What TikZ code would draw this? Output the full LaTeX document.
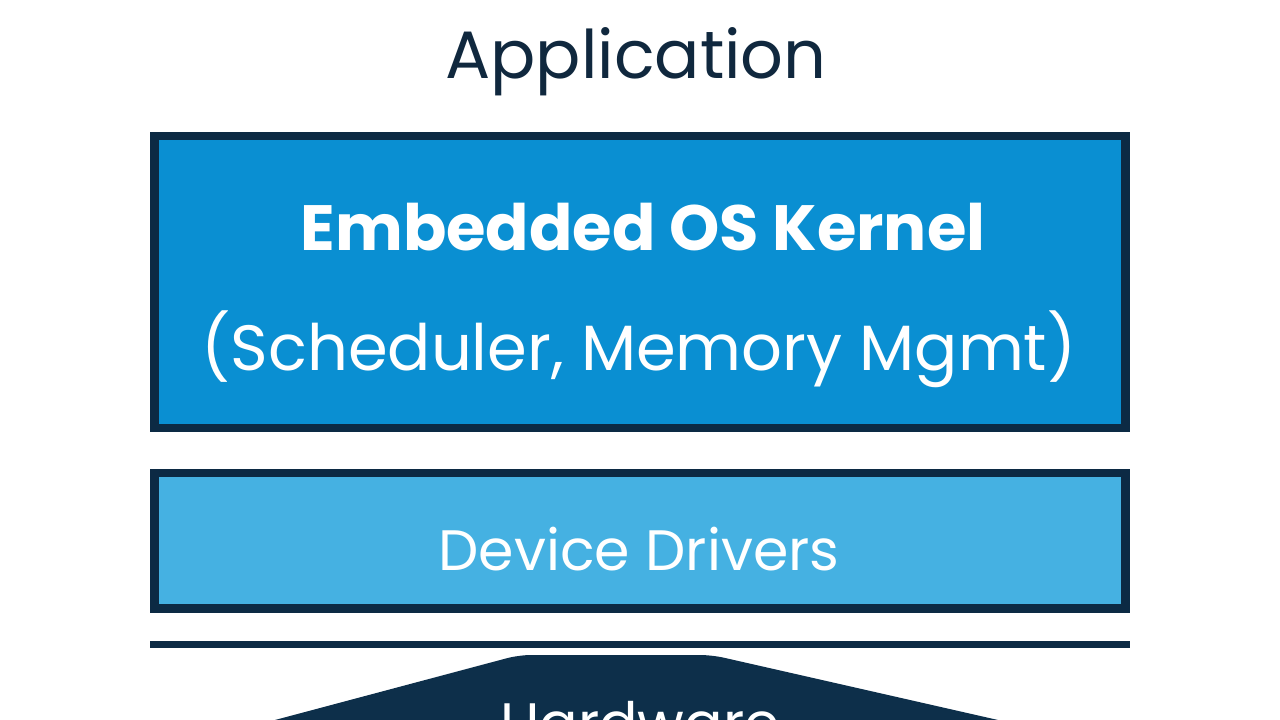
\documentclass[tikz,border=0pt]{standalone}
\usepackage{fontspec}
\setmainfont{Poppins}
\definecolor{navy}{HTML}{0C2A44}
\definecolor{hwnavy}{HTML}{0D2F4A}
\definecolor{kernelblue}{HTML}{0A8FD2}
\definecolor{driverblue}{HTML}{45B1E2}
\definecolor{apptext}{HTML}{10283E}
\tikzset{
  layerbox/.style={draw=navy, line width=8.5pt},
  lbl/.style={text=white, inner sep=0pt, anchor=base},
}
\begin{document}
\begin{tikzpicture}[x=1pt,y=-1pt]
\useasboundingbox (0,0) rectangle (1280,720);
\clip (0,0) rectangle (1280,720);
\fill[white] (0,0) rectangle (1280,720);
% application label
\node[inner sep=0pt, anchor=base, text=apptext, font=\fontsize{67}{70}\selectfont] (app) at (636,78) {Application};
% kernel
\draw[layerbox, fill=kernelblue] (154.5,136) rectangle (1125.5,428);
\node[lbl, font=\fontsize{64}{67}\selectfont\bfseries] (kt) at (643,250) {Embedded OS Kernel};
\node[lbl, font=\fontsize{64}{68}\selectfont] (ks) at (639,370) {(Scheduler, Memory Mgmt)};
% drivers
\draw[layerbox, fill=driverblue] (154.5,473) rectangle (1125.5,608.5);
\node[lbl, font=\fontsize{57}{60}\selectfont] (dd) at (639,570) {Device Drivers};
% separator line
\draw[navy, line width=7pt] (150,644.5) -- (1130,644.5);
% hardware
\fill[hwnavy] (31,785) [rounded corners=12pt] -- (519,655) -- (712,655) [sharp corners] -- (1284,785) -- cycle;
\node[lbl, font=\fontsize{57}{60}\selectfont] (hw) at (640,743) {Hardware};
\end{tikzpicture}
\end{document}
